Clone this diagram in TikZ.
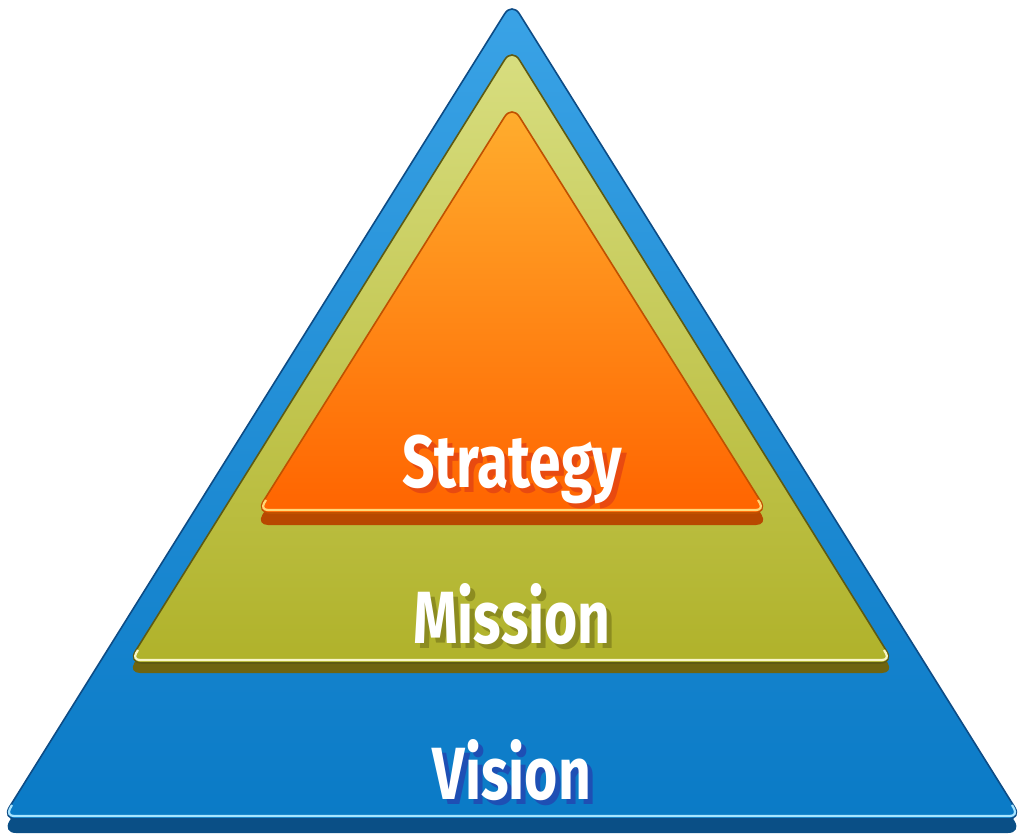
\documentclass[tikz,border=0pt]{standalone}
\usepackage{fontspec}
\newfontfamily\layerfont[FakeStretch=0.77]{Fira Sans}

\definecolor{bluetop}{HTML}{3AA3E6}
\definecolor{bluebot}{HTML}{0A7AC6}
\definecolor{blueband}{HTML}{0A4F86}
\definecolor{blueedge}{HTML}{0D4C86}
\definecolor{bluehi}{HTML}{A8E4FF}
\definecolor{blueshade}{HTML}{1E4FB4}
\definecolor{olivetop}{HTML}{D8DE80}
\definecolor{olivebot}{HTML}{B0B22A}
\definecolor{oliveband}{HTML}{6E6410}
\definecolor{oliveedge}{HTML}{5E5A12}
\definecolor{olivehi}{HTML}{F8F6C8}
\definecolor{oliveshade}{HTML}{8C8C20}
\definecolor{orangetop}{HTML}{FFAE2E}
\definecolor{orangebot}{HTML}{FF6400}
\definecolor{orangeband}{HTML}{B84800}
\definecolor{orangeedge}{HTML}{C05000}
\definecolor{orangehi}{HTML}{FFD878}
\definecolor{orangeshade}{HTML}{E84A10}

\begin{document}
\begin{tikzpicture}[x=0.5pt,y=-0.5pt]
    \tikzstyle{layertext}=[inner sep=0pt, anchor=base, font=\layerfont\bfseries\fontsize{37}{40}\selectfont]
    \tikzstyle{face}=[line width=0.8pt, rounded corners=7pt]
    \tikzstyle{shine}=[line width=1.1pt, rounded corners=4pt]
    \useasboundingbox (0,0) rectangle (1024,835);
    % vision
    \fill [blueband, rounded corners=7pt] (512,16) -- (1022,833) -- (2,833) -- cycle;
    \draw [face, draw=blueedge, top color=bluetop, bottom color=bluebot] (512,2) -- (1022,819) -- (2,819) -- cycle;
    \draw [shine, bluehi] (12,805) -- (6,816) -- (1018,816) -- (1012,805);
    % mission
    \fill [oliveband, rounded corners=6pt] (512,58) -- (894,673) -- (128,673) -- cycle;
    \draw [face, draw=oliveedge, top color=olivetop, bottom color=olivebot] (512,48) -- (894,663) -- (128,663) -- cycle;
    \draw [shine, olivehi] (138,650) -- (132,660) -- (890,660) -- (884,650);
    % strategy
    \fill [orangeband, rounded corners=6pt] (512,117) -- (768,525) -- (256,525) -- cycle;
    \draw [face, draw=orangeedge, top color=orangetop, bottom color=orangebot] (512,105) -- (768,513) -- (256,513) -- cycle;
    \draw [shine, orangehi] (266,500) -- (260,510) -- (764,510) -- (758,500);
    % texts with their drop shades
    \node (strategyshade) [layertext, orangeshade] at (517,492) {Strategy};
    \node (missionshade) [layertext, oliveshade] at (517,648) {Mission};
    \node (visionshade) [layertext, blueshade] at (517,804) {Vision};
    \node (strategy) [layertext, white] at (512,487) {Strategy};
    \node (mission) [layertext, white] at (512,643) {Mission};
    \node (vision) [layertext, white] at (512,799) {Vision};
\end{tikzpicture}
\end{document}
